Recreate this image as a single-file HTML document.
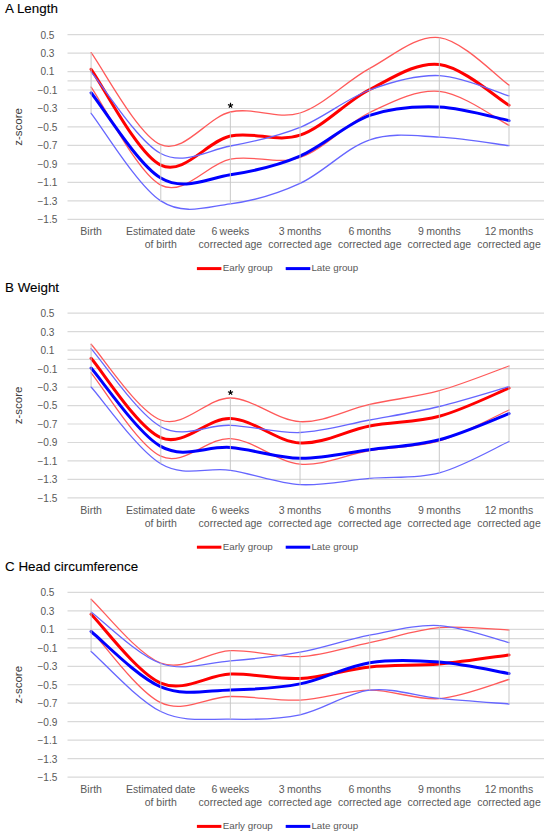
<!DOCTYPE html>
<html><head><meta charset="utf-8"><style>
html,body{margin:0;padding:0;background:#fff;}
body{width:550px;height:835px;overflow:hidden;}
svg{display:block;font-family:"Liberation Sans",sans-serif;}
.title{font-size:13.4px;fill:#000;stroke:#000;stroke-width:0.1px;}
.ylab{font-size:10.1px;fill:#595959;text-anchor:middle;}
.xlab{font-size:10.5px;fill:#595959;text-anchor:middle;word-spacing:-0.6px;}
.ytitle{font-size:11.5px;fill:#404040;text-anchor:middle;}
.leg{font-size:9.8px;fill:#595959;}
.star{font-size:11px;fill:#000;text-anchor:middle;}
</style></head><body>
<svg width="550" height="835" viewBox="0 0 550 835">
<rect width="550" height="835" fill="#fff"/>
<text x="5" y="13.3" class="title">A Length</text>
<line x1="67.5" x2="544" y1="34.60" y2="34.60" stroke="#d9d9d9" stroke-width="1.2"/>
<text x="47.4" y="38.50" class="ylab">0.5</text>
<line x1="67.5" x2="544" y1="53.07" y2="53.07" stroke="#d9d9d9" stroke-width="1.2"/>
<text x="47.4" y="56.97" class="ylab">0.3</text>
<line x1="67.5" x2="544" y1="71.54" y2="71.54" stroke="#d9d9d9" stroke-width="1.2"/>
<text x="47.4" y="75.44" class="ylab">0.1</text>
<line x1="67.5" x2="544" y1="90.01" y2="90.01" stroke="#d9d9d9" stroke-width="1.2"/>
<text x="47.4" y="93.91" class="ylab">−0.1</text>
<line x1="67.5" x2="544" y1="108.48" y2="108.48" stroke="#d9d9d9" stroke-width="1.2"/>
<text x="47.4" y="112.38" class="ylab">−0.3</text>
<line x1="67.5" x2="544" y1="126.95" y2="126.95" stroke="#d9d9d9" stroke-width="1.2"/>
<text x="47.4" y="130.85" class="ylab">−0.5</text>
<line x1="67.5" x2="544" y1="145.42" y2="145.42" stroke="#d9d9d9" stroke-width="1.2"/>
<text x="47.4" y="149.32" class="ylab">−0.7</text>
<line x1="67.5" x2="544" y1="163.89" y2="163.89" stroke="#d9d9d9" stroke-width="1.2"/>
<text x="47.4" y="167.79" class="ylab">−0.9</text>
<line x1="67.5" x2="544" y1="182.36" y2="182.36" stroke="#d9d9d9" stroke-width="1.2"/>
<text x="47.4" y="186.26" class="ylab">−1.1</text>
<line x1="67.5" x2="544" y1="200.83" y2="200.83" stroke="#d9d9d9" stroke-width="1.2"/>
<text x="47.4" y="204.73" class="ylab">−1.3</text>
<line x1="67.5" x2="544" y1="219.30" y2="219.30" stroke="#d9d9d9" stroke-width="1.2"/>
<text x="47.4" y="223.20" class="ylab">−1.5</text>
<line x1="67.5" x2="544" y1="80.78" y2="80.78" stroke="#d9d9d9" stroke-width="1.2"/>
<path d="M91.10,69.30 C102.71,85.27 137.53,153.98 160.75,165.10 C183.97,176.22 207.18,140.98 230.40,136.00 C253.62,131.02 276.83,142.95 300.05,135.20 C323.27,127.45 346.48,101.28 369.70,89.50 C392.92,77.72 416.13,61.88 439.35,64.50 C462.57,67.12 497.39,98.42 509.00,105.20" fill="none" stroke="#ff0000" stroke-width="3" stroke-linecap="round"/>
<path d="M91.10,52.70 C102.71,68.03 137.53,134.82 160.75,144.70 C183.97,154.58 207.18,117.28 230.40,112.00 C253.62,106.72 276.83,120.27 300.05,113.00 C323.27,105.73 346.48,80.97 369.70,68.40 C392.92,55.83 416.13,34.82 439.35,37.60 C462.57,40.38 497.39,77.18 509.00,85.10" fill="none" stroke="#ff5a5a" stroke-width="1.3" stroke-linecap="round"/>
<path d="M91.10,87.10 C102.71,103.43 137.53,173.08 160.75,185.10 C183.97,197.12 207.18,163.80 230.40,159.20 C253.62,154.60 276.83,165.28 300.05,157.50 C323.27,149.72 346.48,123.52 369.70,112.50 C392.92,101.48 416.13,89.27 439.35,91.40 C462.57,93.53 497.39,119.65 509.00,125.30" fill="none" stroke="#ff5a5a" stroke-width="1.3" stroke-linecap="round"/>
<path d="M91.10,92.80 C102.71,107.00 137.53,164.33 160.75,178.00 C183.97,191.67 207.18,178.45 230.40,174.80 C253.62,171.15 276.83,166.00 300.05,156.10 C323.27,146.20 346.48,123.60 369.70,115.40 C392.92,107.20 416.13,106.03 439.35,106.90 C462.57,107.77 497.39,118.32 509.00,120.60" fill="none" stroke="#0000ff" stroke-width="3" stroke-linecap="round"/>
<path d="M91.10,71.80 C102.71,85.42 137.53,141.13 160.75,153.50 C183.97,165.87 207.18,150.37 230.40,146.00 C253.62,141.63 276.83,136.63 300.05,127.30 C323.27,117.97 346.48,98.62 369.70,90.00 C392.92,81.38 416.13,74.62 439.35,75.60 C462.57,76.58 497.39,92.52 509.00,95.90" fill="none" stroke="#6666ff" stroke-width="1.3" stroke-linecap="round"/>
<path d="M91.10,113.30 C102.71,127.90 137.53,185.82 160.75,200.90 C183.97,215.98 207.18,206.72 230.40,203.80 C253.62,200.88 276.83,194.07 300.05,183.40 C323.27,172.73 346.48,147.52 369.70,139.80 C392.92,132.08 416.13,136.12 439.35,137.10 C462.57,138.08 497.39,144.27 509.00,145.70" fill="none" stroke="#6666ff" stroke-width="1.3" stroke-linecap="round"/>
<line x1="91.10" x2="91.10" y1="52.70" y2="113.30" stroke="#c4c4c4" stroke-width="1.15" stroke-opacity="0.8"/>
<line x1="160.75" x2="160.75" y1="144.70" y2="200.90" stroke="#c4c4c4" stroke-width="1.15" stroke-opacity="0.8"/>
<line x1="230.40" x2="230.40" y1="112.00" y2="203.80" stroke="#c4c4c4" stroke-width="1.15" stroke-opacity="0.8"/>
<line x1="300.05" x2="300.05" y1="113.00" y2="183.40" stroke="#c4c4c4" stroke-width="1.15" stroke-opacity="0.8"/>
<line x1="369.70" x2="369.70" y1="68.40" y2="139.80" stroke="#c4c4c4" stroke-width="1.15" stroke-opacity="0.8"/>
<line x1="439.35" x2="439.35" y1="37.60" y2="137.10" stroke="#c4c4c4" stroke-width="1.15" stroke-opacity="0.8"/>
<line x1="509.00" x2="509.00" y1="85.10" y2="145.70" stroke="#c4c4c4" stroke-width="1.15" stroke-opacity="0.8"/>
<path d="M230.50,105.50 L230.50,102.80 M230.50,105.50 L233.07,104.67 M230.50,105.50 L232.09,107.68 M230.50,105.50 L228.91,107.68 M230.50,105.50 L227.93,104.67 " stroke="#000" stroke-width="1.15" stroke-linecap="butt" fill="none"/>
<text x="91.10" y="235.4" class="xlab">Birth</text>
<text x="160.75" y="235.4" class="xlab">Estimated date</text>
<text x="160.75" y="248.2" class="xlab" style="word-spacing:0">of birth</text>
<text x="230.40" y="235.4" class="xlab">6 weeks</text>
<text x="230.40" y="248.2" class="xlab">corrected age</text>
<text x="300.05" y="235.4" class="xlab">3 months</text>
<text x="300.05" y="248.2" class="xlab">corrected age</text>
<text x="369.70" y="235.4" class="xlab">6 months</text>
<text x="369.70" y="248.2" class="xlab">corrected age</text>
<text x="439.35" y="235.4" class="xlab">9 months</text>
<text x="439.35" y="248.2" class="xlab">corrected age</text>
<text x="509.00" y="235.4" class="xlab">12 months</text>
<text x="509.00" y="248.2" class="xlab">corrected age</text>
<text x="0" y="0" class="ytitle" transform="translate(22.0 126.9) rotate(-90)">z-score</text>
<line x1="196.9" x2="221.4" y1="268.6" y2="268.6" stroke="#ff0000" stroke-width="3"/>
<text x="222.7" y="270.9" class="leg">Early group</text>
<line x1="285.7" x2="310.3" y1="268.6" y2="268.6" stroke="#0000ff" stroke-width="3"/>
<text x="311.4" y="270.9" class="leg">Late group</text>
<text x="5" y="291.9" class="title">B Weight</text>
<line x1="67.5" x2="544" y1="313.20" y2="313.20" stroke="#d9d9d9" stroke-width="1.2"/>
<text x="47.4" y="317.10" class="ylab">0.5</text>
<line x1="67.5" x2="544" y1="331.67" y2="331.67" stroke="#d9d9d9" stroke-width="1.2"/>
<text x="47.4" y="335.57" class="ylab">0.3</text>
<line x1="67.5" x2="544" y1="350.14" y2="350.14" stroke="#d9d9d9" stroke-width="1.2"/>
<text x="47.4" y="354.04" class="ylab">0.1</text>
<line x1="67.5" x2="544" y1="368.61" y2="368.61" stroke="#d9d9d9" stroke-width="1.2"/>
<text x="47.4" y="372.51" class="ylab">−0.1</text>
<line x1="67.5" x2="544" y1="387.08" y2="387.08" stroke="#d9d9d9" stroke-width="1.2"/>
<text x="47.4" y="390.98" class="ylab">−0.3</text>
<line x1="67.5" x2="544" y1="405.55" y2="405.55" stroke="#d9d9d9" stroke-width="1.2"/>
<text x="47.4" y="409.45" class="ylab">−0.5</text>
<line x1="67.5" x2="544" y1="424.02" y2="424.02" stroke="#d9d9d9" stroke-width="1.2"/>
<text x="47.4" y="427.92" class="ylab">−0.7</text>
<line x1="67.5" x2="544" y1="442.49" y2="442.49" stroke="#d9d9d9" stroke-width="1.2"/>
<text x="47.4" y="446.39" class="ylab">−0.9</text>
<line x1="67.5" x2="544" y1="460.96" y2="460.96" stroke="#d9d9d9" stroke-width="1.2"/>
<text x="47.4" y="464.86" class="ylab">−1.1</text>
<line x1="67.5" x2="544" y1="479.43" y2="479.43" stroke="#d9d9d9" stroke-width="1.2"/>
<text x="47.4" y="483.33" class="ylab">−1.3</text>
<line x1="67.5" x2="544" y1="497.90" y2="497.90" stroke="#d9d9d9" stroke-width="1.2"/>
<text x="47.4" y="501.80" class="ylab">−1.5</text>
<line x1="67.5" x2="544" y1="359.38" y2="359.38" stroke="#d9d9d9" stroke-width="1.2"/>
<path d="M91.10,358.30 C102.71,371.52 137.53,427.57 160.75,437.60 C183.97,447.63 207.18,417.60 230.40,418.50 C253.62,419.40 276.83,441.75 300.05,443.00 C323.27,444.25 346.48,430.45 369.70,426.00 C392.92,421.55 416.13,422.62 439.35,416.30 C462.57,409.98 497.39,392.80 509.00,388.10" fill="none" stroke="#ff0000" stroke-width="3" stroke-linecap="round"/>
<path d="M91.10,344.30 C102.71,356.92 137.53,411.05 160.75,420.00 C183.97,428.95 207.18,397.72 230.40,398.00 C253.62,398.28 276.83,420.63 300.05,421.70 C323.27,422.77 346.48,409.57 369.70,404.40 C392.92,399.23 416.13,397.10 439.35,390.70 C462.57,384.30 497.39,370.12 509.00,366.00" fill="none" stroke="#ff5a5a" stroke-width="1.3" stroke-linecap="round"/>
<path d="M91.10,372.80 C102.71,386.70 137.53,445.23 160.75,456.20 C183.97,467.17 207.18,437.28 230.40,438.60 C253.62,439.92 276.83,462.12 300.05,464.10 C323.27,466.08 346.48,454.35 369.70,450.50 C392.92,446.65 416.13,447.75 439.35,441.00 C462.57,434.25 497.39,415.17 509.00,410.00" fill="none" stroke="#ff5a5a" stroke-width="1.3" stroke-linecap="round"/>
<path d="M91.10,368.00 C102.71,381.07 137.53,433.15 160.75,446.40 C183.97,459.65 207.18,445.52 230.40,447.50 C253.62,449.48 276.83,457.93 300.05,458.30 C323.27,458.67 346.48,452.80 369.70,449.70 C392.92,446.60 416.13,445.72 439.35,439.70 C462.57,433.68 497.39,417.95 509.00,413.60" fill="none" stroke="#0000ff" stroke-width="3" stroke-linecap="round"/>
<path d="M91.10,348.60 C102.71,361.62 137.53,413.92 160.75,426.70 C183.97,439.48 207.18,424.33 230.40,425.30 C253.62,426.27 276.83,433.38 300.05,432.50 C323.27,431.62 346.48,424.33 369.70,420.00 C392.92,415.67 416.13,412.05 439.35,406.50 C462.57,400.95 497.39,390.00 509.00,386.70" fill="none" stroke="#6666ff" stroke-width="1.3" stroke-linecap="round"/>
<path d="M91.10,387.00 C102.71,399.80 137.53,449.92 160.75,463.80 C183.97,477.68 207.18,466.83 230.40,470.30 C253.62,473.77 276.83,483.25 300.05,484.60 C323.27,485.95 346.48,480.35 369.70,478.40 C392.92,476.45 416.13,479.05 439.35,472.90 C462.57,466.75 497.39,446.73 509.00,441.50" fill="none" stroke="#6666ff" stroke-width="1.3" stroke-linecap="round"/>
<line x1="91.10" x2="91.10" y1="344.30" y2="387.00" stroke="#c4c4c4" stroke-width="1.15" stroke-opacity="0.8"/>
<line x1="160.75" x2="160.75" y1="420.00" y2="463.80" stroke="#c4c4c4" stroke-width="1.15" stroke-opacity="0.8"/>
<line x1="230.40" x2="230.40" y1="398.00" y2="470.30" stroke="#c4c4c4" stroke-width="1.15" stroke-opacity="0.8"/>
<line x1="300.05" x2="300.05" y1="421.70" y2="484.60" stroke="#c4c4c4" stroke-width="1.15" stroke-opacity="0.8"/>
<line x1="369.70" x2="369.70" y1="404.40" y2="478.40" stroke="#c4c4c4" stroke-width="1.15" stroke-opacity="0.8"/>
<line x1="439.35" x2="439.35" y1="390.70" y2="472.90" stroke="#c4c4c4" stroke-width="1.15" stroke-opacity="0.8"/>
<line x1="509.00" x2="509.00" y1="366.00" y2="441.50" stroke="#c4c4c4" stroke-width="1.15" stroke-opacity="0.8"/>
<path d="M230.50,392.60 L230.50,389.90 M230.50,392.60 L233.07,391.77 M230.50,392.60 L232.09,394.78 M230.50,392.60 L228.91,394.78 M230.50,392.60 L227.93,391.77 " stroke="#000" stroke-width="1.15" stroke-linecap="butt" fill="none"/>
<text x="91.10" y="514.0" class="xlab">Birth</text>
<text x="160.75" y="514.0" class="xlab">Estimated date</text>
<text x="160.75" y="526.8" class="xlab" style="word-spacing:0">of birth</text>
<text x="230.40" y="514.0" class="xlab">6 weeks</text>
<text x="230.40" y="526.8" class="xlab">corrected age</text>
<text x="300.05" y="514.0" class="xlab">3 months</text>
<text x="300.05" y="526.8" class="xlab">corrected age</text>
<text x="369.70" y="514.0" class="xlab">6 months</text>
<text x="369.70" y="526.8" class="xlab">corrected age</text>
<text x="439.35" y="514.0" class="xlab">9 months</text>
<text x="439.35" y="526.8" class="xlab">corrected age</text>
<text x="509.00" y="514.0" class="xlab">12 months</text>
<text x="509.00" y="526.8" class="xlab">corrected age</text>
<text x="0" y="0" class="ytitle" transform="translate(22.0 405.5) rotate(-90)">z-score</text>
<line x1="196.9" x2="221.4" y1="547.2" y2="547.2" stroke="#ff0000" stroke-width="3"/>
<text x="222.7" y="549.5" class="leg">Early group</text>
<line x1="285.7" x2="310.3" y1="547.2" y2="547.2" stroke="#0000ff" stroke-width="3"/>
<text x="311.4" y="549.5" class="leg">Late group</text>
<text x="5" y="571.1" class="title">C Head circumference</text>
<line x1="67.5" x2="544" y1="592.40" y2="592.40" stroke="#d9d9d9" stroke-width="1.2"/>
<text x="47.4" y="596.30" class="ylab">0.5</text>
<line x1="67.5" x2="544" y1="610.87" y2="610.87" stroke="#d9d9d9" stroke-width="1.2"/>
<text x="47.4" y="614.77" class="ylab">0.3</text>
<line x1="67.5" x2="544" y1="629.34" y2="629.34" stroke="#d9d9d9" stroke-width="1.2"/>
<text x="47.4" y="633.24" class="ylab">0.1</text>
<line x1="67.5" x2="544" y1="647.81" y2="647.81" stroke="#d9d9d9" stroke-width="1.2"/>
<text x="47.4" y="651.71" class="ylab">−0.1</text>
<line x1="67.5" x2="544" y1="666.28" y2="666.28" stroke="#d9d9d9" stroke-width="1.2"/>
<text x="47.4" y="670.18" class="ylab">−0.3</text>
<line x1="67.5" x2="544" y1="684.75" y2="684.75" stroke="#d9d9d9" stroke-width="1.2"/>
<text x="47.4" y="688.65" class="ylab">−0.5</text>
<line x1="67.5" x2="544" y1="703.22" y2="703.22" stroke="#d9d9d9" stroke-width="1.2"/>
<text x="47.4" y="707.12" class="ylab">−0.7</text>
<line x1="67.5" x2="544" y1="721.69" y2="721.69" stroke="#d9d9d9" stroke-width="1.2"/>
<text x="47.4" y="725.59" class="ylab">−0.9</text>
<line x1="67.5" x2="544" y1="740.16" y2="740.16" stroke="#d9d9d9" stroke-width="1.2"/>
<text x="47.4" y="744.06" class="ylab">−1.1</text>
<line x1="67.5" x2="544" y1="758.63" y2="758.63" stroke="#d9d9d9" stroke-width="1.2"/>
<text x="47.4" y="762.53" class="ylab">−1.3</text>
<line x1="67.5" x2="544" y1="777.10" y2="777.10" stroke="#d9d9d9" stroke-width="1.2"/>
<text x="47.4" y="781.00" class="ylab">−1.5</text>
<line x1="67.5" x2="544" y1="638.57" y2="638.57" stroke="#d9d9d9" stroke-width="1.2"/>
<path d="M91.10,614.30 C102.71,625.77 137.53,673.13 160.75,683.10 C183.97,693.07 207.18,674.87 230.40,674.10 C253.62,673.33 276.83,679.70 300.05,678.50 C323.27,677.30 346.48,669.33 369.70,666.90 C392.92,664.47 416.13,665.90 439.35,663.90 C462.57,661.90 497.39,656.40 509.00,654.90" fill="none" stroke="#ff0000" stroke-width="3" stroke-linecap="round"/>
<path d="M91.10,599.20 C102.71,609.83 137.53,654.43 160.75,663.00 C183.97,671.57 207.18,651.67 230.40,650.60 C253.62,649.53 276.83,657.93 300.05,656.60 C323.27,655.27 346.48,647.42 369.70,642.60 C392.92,637.78 416.13,629.78 439.35,627.70 C462.57,625.62 497.39,629.70 509.00,630.10" fill="none" stroke="#ff5a5a" stroke-width="1.3" stroke-linecap="round"/>
<path d="M91.10,630.50 C102.71,642.53 137.53,691.70 160.75,702.70 C183.97,713.70 207.18,696.93 230.40,696.50 C253.62,696.07 276.83,701.15 300.05,700.10 C323.27,699.05 346.48,690.45 369.70,690.20 C392.92,689.95 416.13,700.38 439.35,698.60 C462.57,696.82 497.39,682.68 509.00,679.50" fill="none" stroke="#ff5a5a" stroke-width="1.3" stroke-linecap="round"/>
<path d="M91.10,631.50 C102.71,640.73 137.53,677.17 160.75,686.90 C183.97,696.63 207.18,690.40 230.40,689.90 C253.62,689.40 276.83,688.43 300.05,683.90 C323.27,679.37 346.48,666.33 369.70,662.70 C392.92,659.07 416.13,660.30 439.35,662.10 C462.57,663.90 497.39,671.60 509.00,673.50" fill="none" stroke="#0000ff" stroke-width="3" stroke-linecap="round"/>
<path d="M91.10,612.10 C102.71,620.67 137.53,655.37 160.75,663.50 C183.97,671.63 207.18,662.78 230.40,660.90 C253.62,659.02 276.83,656.50 300.05,652.20 C323.27,647.90 346.48,639.53 369.70,635.10 C392.92,630.67 416.13,624.35 439.35,625.60 C462.57,626.85 497.39,639.77 509.00,642.60" fill="none" stroke="#6666ff" stroke-width="1.3" stroke-linecap="round"/>
<path d="M91.10,651.40 C102.71,661.42 137.53,700.20 160.75,711.50 C183.97,722.80 207.18,718.65 230.40,719.20 C253.62,719.75 276.83,719.63 300.05,714.80 C323.27,709.97 346.48,692.93 369.70,690.20 C392.92,687.47 416.13,696.10 439.35,698.40 C462.57,700.70 497.39,703.07 509.00,704.00" fill="none" stroke="#6666ff" stroke-width="1.3" stroke-linecap="round"/>
<line x1="91.10" x2="91.10" y1="599.20" y2="651.40" stroke="#c4c4c4" stroke-width="1.15" stroke-opacity="0.8"/>
<line x1="160.75" x2="160.75" y1="663.00" y2="711.50" stroke="#c4c4c4" stroke-width="1.15" stroke-opacity="0.8"/>
<line x1="230.40" x2="230.40" y1="650.60" y2="719.20" stroke="#c4c4c4" stroke-width="1.15" stroke-opacity="0.8"/>
<line x1="300.05" x2="300.05" y1="652.20" y2="714.80" stroke="#c4c4c4" stroke-width="1.15" stroke-opacity="0.8"/>
<line x1="369.70" x2="369.70" y1="635.10" y2="690.20" stroke="#c4c4c4" stroke-width="1.15" stroke-opacity="0.8"/>
<line x1="439.35" x2="439.35" y1="625.60" y2="698.60" stroke="#c4c4c4" stroke-width="1.15" stroke-opacity="0.8"/>
<line x1="509.00" x2="509.00" y1="630.10" y2="704.00" stroke="#c4c4c4" stroke-width="1.15" stroke-opacity="0.8"/>
<text x="91.10" y="793.2" class="xlab">Birth</text>
<text x="160.75" y="793.2" class="xlab">Estimated date</text>
<text x="160.75" y="806.0" class="xlab" style="word-spacing:0">of birth</text>
<text x="230.40" y="793.2" class="xlab">6 weeks</text>
<text x="230.40" y="806.0" class="xlab">corrected age</text>
<text x="300.05" y="793.2" class="xlab">3 months</text>
<text x="300.05" y="806.0" class="xlab">corrected age</text>
<text x="369.70" y="793.2" class="xlab">6 months</text>
<text x="369.70" y="806.0" class="xlab">corrected age</text>
<text x="439.35" y="793.2" class="xlab">9 months</text>
<text x="439.35" y="806.0" class="xlab">corrected age</text>
<text x="509.00" y="793.2" class="xlab">12 months</text>
<text x="509.00" y="806.0" class="xlab">corrected age</text>
<text x="0" y="0" class="ytitle" transform="translate(22.0 684.8) rotate(-90)">z-score</text>
<line x1="196.9" x2="221.4" y1="826.4" y2="826.4" stroke="#ff0000" stroke-width="3"/>
<text x="222.7" y="828.7" class="leg">Early group</text>
<line x1="285.7" x2="310.3" y1="826.4" y2="826.4" stroke="#0000ff" stroke-width="3"/>
<text x="311.4" y="828.7" class="leg">Late group</text>
</svg>
</body></html>
